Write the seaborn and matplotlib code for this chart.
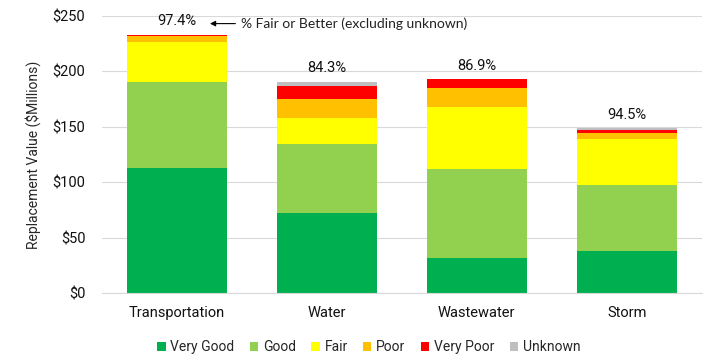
import numpy as np
import pandas as pd
import matplotlib
matplotlib.use("Agg")
import matplotlib.pyplot as plt
from matplotlib.ticker import FuncFormatter
import seaborn as sns

assets = ["Transportation", "Water", "Wastewater", "Storm"]
conditions = ["Very Good", "Good", "Fair", "Poor", "Very Poor", "Unknown"]
very_good = [112.5, 72.0, 31.5, 38.0]
good = [78.0, 62.0, 80.5, 59.5]
fair = [36.0, 23.5, 55.5, 41.5]
poor = [5.2, 17.5, 17.0, 5.0]
very_poor = [0.9, 11.8, 8.3, 3.1]
unknown = [0.0, 3.4, 0.0, 1.6]
colors = ["#00B050", "#92D050", "#FFFF00", "#FFC000", "#FF0000", "#BFBFBF"]

series = [very_good, good, fair, poor, very_poor, unknown]

sns.set_style("white")
plt.rcParams["font.family"] = ["Roboto", "DejaVu Sans"]

fig = plt.figure(figsize=(7.16, 3.6), dpi=100)
ax = fig.add_axes([0.1425, 0.186, 0.8375, 0.770])

ax.yaxis.grid(True, color="#d9d9d9", linewidth=0.8)
ax.set_axisbelow(True)

bottom = np.zeros(len(assets))
for name, vals, c in zip(conditions, series, colors):
    sns.barplot(x=assets, y=vals, bottom=bottom, color=c, width=0.667,
                label=name, ax=ax, saturation=1, linewidth=0)
    bottom = bottom + np.array(vals)

# % fair or better, excluding unknown
for i in range(len(assets)):
    ok = very_good[i] + good[i] + fair[i]
    known = ok + poor[i] + very_poor[i]
    pct = ok / known * 100
    ax.text(i, bottom[i] + 6, f"{pct:.1f}%", ha="center", va="bottom", fontsize=10.5,
            color="#111111")

ax.annotate("% Fair or Better (excluding unknown)", xy=(0.22, 243), xytext=(0.43, 243),
            va="center", ha="left", fontsize=10, family=["Lato", "DejaVu Sans"],
            color="#222222",
            arrowprops=dict(arrowstyle="-|>", color="black", lw=0.8, shrinkB=0, shrinkA=2,
                            mutation_scale=8))

ax.set_xlim(-0.5, 3.5)
ax.set_ylim(0, 250)
ax.set_yticks(range(0, 251, 50))
ax.yaxis.set_major_formatter(FuncFormatter(lambda v, p: r"\$" + f"{v:.0f}"))
ax.set_ylabel(r"Replacement Value (\$Millions)", fontsize=10, labelpad=8)
ax.set_xlabel("")
ax.tick_params(axis="both", labelsize=10.5, length=0, labelcolor="#111111")
ax.tick_params(axis="x", pad=9)
ax.tick_params(axis="y", pad=12)

for s in ["top", "right", "left"]:
    ax.spines[s].set_visible(False)
ax.spines["bottom"].set_color("#d9d9d9")

ax.legend(loc="center", bbox_to_anchor=(0.445, -0.195), ncol=6, frameon=False,
          fontsize=10, handlelength=0.6, handleheight=0.6, handletextpad=0.35,
          columnspacing=1.1)

fig.savefig("out.png", dpi=100)
